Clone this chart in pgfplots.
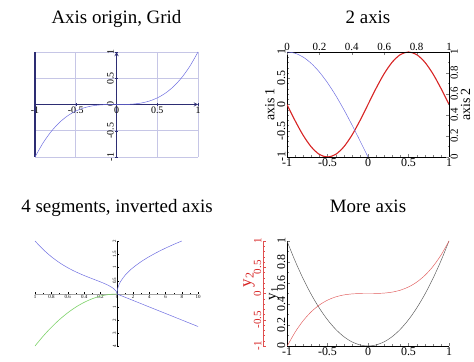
\documentclass[border=0pt]{standalone}
\usepackage{fontspec}
\setmainfont{Liberation Serif}
\usepackage{pgfplots}
\pgfplotsset{compat=1.18}
\definecolor{cblue}{RGB}{110,110,225}
\definecolor{cnavy}{RGB}{45,45,115}
\definecolor{cgrid}{RGB}{198,198,230}
\definecolor{cred}{RGB}{215,35,35}
\definecolor{clred}{RGB}{225,90,90}
\definecolor{cgreen}{RGB}{125,210,105}
\definecolor{cgray}{RGB}{85,85,85}
\begin{document}
\begin{tikzpicture}
\useasboundingbox (0,0) rectangle (474bp,362bp);
\pgfplotsset{every axis/.append style={scale only axis, anchor=south west,
  /pgf/number format/assume math mode=true, tick align=inside,
  every inner x axis line/.append style={-}, every inner y axis line/.append style={-},
  every outer x axis line/.append style={-}, every outer y axis line/.append style={-}}}
\tikzset{ttl/.style={anchor=base, font=\fontsize{19}{22}\selectfont}}
\node[ttl] at (116.5bp,338.7bp) {Axis origin, Grid};
\node[ttl] at (368bp,338.7bp) {2 axis};
\node[ttl] at (117bp,149.5bp) {4 segments, inverted axis};
\node[ttl] at (368bp,149.5bp) {More axis};

% ---------- Panel 1 ----------
\begin{axis}[at={(35bp,205bp)}, width=163bp, height=105bp,
  xmin=-1,xmax=1,ymin=-1,ymax=1,
  axis lines=middle, axis line style={cnavy, line width=0.9pt},
  xtick={-1,-0.5,0,0.5,1}, ytick={-1,-0.5,0,0.5,1},
  minor x tick num=4, minor y tick num=4,
  grid=major, grid style={cgrid, line width=0.6pt},
  extra x ticks={-1}, extra x tick labels={},
  extra x tick style={grid style={cnavy, line width=1.1pt}, major tick length=0pt},
  hide obscured x ticks=false, hide obscured y ticks=false,
  tick style={cnavy, line width=0.4pt},
  major tick length=3bp, minor tick length=1.5bp,
  tick label style={font=\fontsize{10}{11}\selectfont},
  xticklabel style={anchor=north, inner sep=1pt},
  yticklabel style={rotate=90, anchor=south, inner sep=1pt},
]
\addplot[cblue, line width=0.5pt, smooth] coordinates {
(-1,-1) (-0.9,-0.729) (-0.8,-0.512) (-0.7,-0.343) (-0.6,-0.216) (-0.5,-0.125)
(-0.4,-0.064) (-0.3,-0.027) (-0.2,-0.008) (-0.1,-0.001) (0,0) (0.1,0.001)
(0.2,0.008) (0.3,0.027) (0.4,0.064) (0.5,0.125) (0.6,0.216) (0.7,0.343)
(0.8,0.512) (0.9,0.729) (1,1)};
\end{axis}

% ---------- Panel 2 ----------
\begin{axis}[at={(287bp,205bp)}, width=162bp, height=105bp,
  xmin=-1,xmax=1,ymin=-1,ymax=1,
  axis x line*=bottom, axis y line*=left, axis line style={black, line width=0.6pt},
  xtick={-1,-0.5,0,0.5,1}, ytick={-1,-0.5,0,0.5,1},
  minor x tick num=4, minor y tick num=4,
  major tick length=3bp, minor tick length=1.5bp,
  tick label style={font=\fontsize{12}{13}\selectfont},
  xticklabel style={anchor=north, inner sep=1pt},
  yticklabel style={rotate=90, anchor=south, inner sep=1.5pt},
  ylabel={axis 1}, ylabel style={font=\fontsize{14}{16}\selectfont, inner sep=1pt},
]
\addplot[cred, line width=1.1pt, smooth] coordinates {
(-1,0) (-0.9,-0.309) (-0.8,-0.588) (-0.7,-0.809) (-0.6,-0.951) (-0.5,-1)
(-0.4,-0.951) (-0.3,-0.809) (-0.2,-0.588) (-0.1,-0.309) (0,0) (0.1,0.309)
(0.2,0.588) (0.3,0.809) (0.4,0.951) (0.5,1) (0.6,0.951) (0.7,0.809)
(0.8,0.588) (0.9,0.309) (1,0)};
\end{axis}
\begin{axis}[at={(287bp,205bp)}, width=162bp, height=105bp,
  xmin=0,xmax=1,ymin=0,ymax=1,
  axis x line*=top, axis y line*=right, axis line style={black, line width=0.6pt},
  xtick={0,0.2,0.4,0.6,0.8,1}, ytick={0,0.2,0.4,0.6,0.8,1},
  xticklabels={0,0.2,0.4,0.6,0.8,1}, yticklabels={0,0.2,0.4,0.6,0.8,1},
  minor x tick num=1, minor y tick num=1,
  major tick length=3bp, minor tick length=1.5bp,
  tick label style={font=\fontsize{11}{12}\selectfont},
  xticklabel style={anchor=south, inner sep=1pt},
  yticklabel style={rotate=90, anchor=north, inner sep=1.5pt},
  ylabel={axis 2}, ylabel style={font=\fontsize{14}{16}\selectfont, inner sep=1pt},
]
\addplot[cblue, line width=0.5pt, smooth] coordinates {
(0,1) (0.05,0.988) (0.1,0.951) (0.15,0.891) (0.2,0.809) (0.25,0.707)
(0.3,0.588) (0.35,0.454) (0.4,0.309) (0.45,0.156) (0.5,0)};
\end{axis}

% ---------- Panel 3 ----------
\pgfplotsset{seg/.style={
  major tick length=1.6bp, minor tick length=0.9bp,
  tick style={black, line width=0.3pt},
  tick label style={font=\fontsize{5}{6}\selectfont, inner sep=0.6pt},
  xticklabel style={anchor=north},
  yticklabel style={rotate=90, anchor=south}}}
% top right
\begin{axis}[seg, at={(117bp,68bp)}, width=81bp, height=53bp,
  xmin=0,xmax=10,ymin=0,ymax=2,
  axis x line*=bottom, axis y line*=left,
  x axis line style={black!35, line width=0.5pt},
  y axis line style={black, line width=0.8pt},
  xtick={0,2,4,6,8,10}, ytick={0.5,1,1.5,2},
  minor x tick num=1, minor y tick num=1,
]
\addplot[cblue, line width=0.5pt, smooth] coordinates {
(0,0) (0.02,0.1) (0.05,0.158) (0.1,0.224) (0.25,0.354) (0.5,0.5) (1,0.707)
(1.5,0.866) (2,1) (3,1.225) (4,1.414) (5,1.581) (6,1.732) (7,1.871) (8,2)};
\node[anchor=north, font=\fontsize{6}{7}\selectfont, inner sep=0pt] at (axis cs:9.7,-0.3) {W};
\end{axis}
% top left
\begin{axis}[seg, at={(35bp,68bp)}, width=82bp, height=53bp,
  xmin=0,xmax=1,ymin=0,ymax=2, x dir=reverse,
  axis x line*=bottom, axis y line=none,
  x axis line style={black!35, line width=0.5pt},
  xtick={0.2,0.4,0.6,0.8,1}, minor x tick num=1,
]
\addplot[cblue, line width=0.5pt, smooth] coordinates {
(0,0) (0.005,0.0707) (0.01,0.101) (0.02,0.1414) (0.05,0.2237) (0.1,0.3172)
(0.15,0.3907) (0.2,0.4552) (0.3,0.5747) (0.4,0.6965) (0.5,0.8321) (0.6,0.9906)
(0.7,1.1797) (0.8,1.4064) (0.9,1.6777) (1,2)};
\node[anchor=north, font=\fontsize{6}{7}\selectfont, inner sep=0pt, rotate=90] at (axis cs:1,-0.3) {$\tau$};
\end{axis}
% bottom right
\begin{axis}[seg, at={(117bp,16bp)}, width=81bp, height=52bp,
  xmin=0,xmax=10,ymin=0,ymax=4, y dir=reverse,
  axis x line=none, axis y line*=left,
  y axis line style={black, line width=0.8pt},
  ytick={1,2,3,4}, minor y tick num=1,
]
\addplot[cblue, line width=0.5pt] coordinates {(0,0) (10,2.5)};
\end{axis}
% bottom left
\begin{axis}[seg, at={(35bp,16bp)}, width=82bp, height=52bp,
  xmin=0,xmax=1,ymin=0,ymax=4, x dir=reverse, y dir=reverse,
  axis lines=none,
]
\addplot[cgreen, line width=0.6pt, smooth] coordinates {
(0,0) (0.1,0.04) (0.2,0.16) (0.3,0.36) (0.4,0.64) (0.5,1) (0.6,1.44)
(0.7,1.96) (0.8,2.56) (0.9,3.24) (1,4)};
\end{axis}

% ---------- Panel 4 ----------
\begin{axis}[at={(287bp,16bp)}, width=162bp, height=105bp,
  xmin=-1,xmax=1,ymin=0,ymax=1,
  axis x line*=bottom, axis y line*=left, axis line style={black, line width=0.6pt},
  xtick={-1,-0.5,0,0.5,1}, ytick={0,0.2,0.4,0.6,0.8,1},
  yticklabels={0,0.2,0.4,0.6,0.8,1},
  minor x tick num=4, minor y tick num=1,
  major tick length=3bp, minor tick length=1.5bp,
  tick label style={font=\fontsize{12}{13}\selectfont},
  xticklabel style={anchor=north, inner sep=1pt},
  yticklabel style={rotate=90, anchor=south, inner sep=1.5pt},
  ylabel={y\textsubscript{1}},
  ylabel style={font=\fontsize{15}{16}\selectfont, inner sep=0pt, at={(axis description cs:-0.08,0.5)}, anchor=center},
]
\addplot[cgray, line width=0.45pt, smooth] coordinates {
(-1,1) (-0.9,0.81) (-0.8,0.64) (-0.7,0.49) (-0.6,0.36) (-0.5,0.25) (-0.4,0.16)
(-0.3,0.09) (-0.2,0.04) (-0.1,0.01) (0,0) (0.1,0.01) (0.2,0.04) (0.3,0.09)
(0.4,0.16) (0.5,0.25) (0.6,0.36) (0.7,0.49) (0.8,0.64) (0.9,0.81) (1,1)};
\end{axis}
\begin{axis}[at={(263bp,16bp)}, width=186bp, height=105bp,
  xmin=-1.3,xmax=1,ymin=-1,ymax=1,
  axis x line=none, axis y line*=left, axis line style={cred!80, line width=0.6pt},
  ytick={-1,-0.5,0,0.5,1}, minor y tick num=4,
  tick style={cred!80},
  major tick length=3bp, minor tick length=1.5bp,
  tick label style={font=\fontsize{11}{12}\selectfont, text=cred},
  yticklabel style={rotate=90, anchor=south, inner sep=1.5pt},
  ylabel={y\textsubscript{2}},
  ylabel style={font=\fontsize{17}{18}\selectfont, text=cred, inner sep=0pt, at={(axis description cs:-0.075,0.63)}, anchor=center},
]
\addplot[clred, line width=0.45pt, smooth] coordinates {
(-1,-1) (-0.9,-0.729) (-0.8,-0.512) (-0.7,-0.343) (-0.6,-0.216) (-0.5,-0.125)
(-0.4,-0.064) (-0.3,-0.027) (-0.2,-0.008) (-0.1,-0.001) (0,0) (0.1,0.001)
(0.2,0.008) (0.3,0.027) (0.4,0.064) (0.5,0.125) (0.6,0.216) (0.7,0.343)
(0.8,0.512) (0.9,0.729) (1,1)};
\end{axis}
\end{tikzpicture}
\end{document}
